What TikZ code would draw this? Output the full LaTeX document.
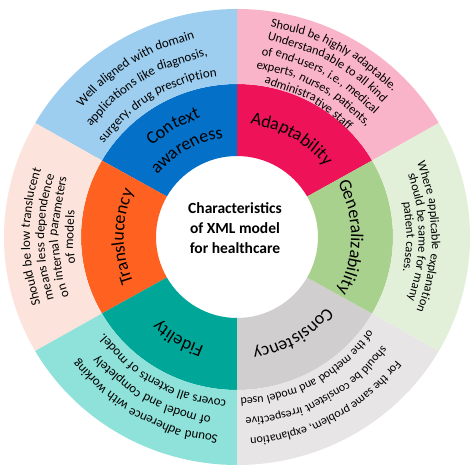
\documentclass[tikz,border=0pt]{standalone}
\usepackage{fontspec}
\setmainfont{Carlito}
\usetikzlibrary{decorations.text}
\definecolor{ctxO}{RGB}{157,206,240}
\definecolor{ctxM}{RGB}{4,112,200}
\definecolor{adaO}{RGB}{250,180,202}
\definecolor{adaM}{RGB}{238,18,88}
\definecolor{genO}{RGB}{226,240,217}
\definecolor{genM}{RGB}{169,209,142}
\definecolor{conO}{RGB}{231,229,230}
\definecolor{conM}{RGB}{208,206,206}
\definecolor{fidO}{RGB}{142,226,218}
\definecolor{fidM}{RGB}{0,166,152}
\definecolor{traO}{RGB}{252,228,220}
\definecolor{traM}{RGB}{255,97,32}
\newcommand{\lblf}{\fontsize{18}{22}\selectfont}
\newcommand{\dsca}{\fontsize{13}{15}\selectfont}
\newcommand{\dscb}{\fontsize{12.5}{14}\selectfont}
\newcommand{\dscc}{\fontsize{12}{14}\selectfont}
\newcommand{\ringsector}[7]{\fill[#7] (#1:#3pt and #4pt) arc[start angle=#1,end angle=#2,x radius=#3pt,y radius=#4pt] -- (#2:#5pt and #6pt) arc[start angle=#2,end angle=#1,x radius=#5pt,y radius=#6pt] -- cycle;}
\newcommand{\arctext}[4]{\path[decorate,decoration={text along path,text align=center,text={|#3|#4}}] ({#1+85}:#2pt) arc[start angle={#1+85},end angle={#1-85},radius=#2pt];}
\begin{document}
\begin{tikzpicture}[x=1pt,y=1pt]
\useasboundingbox (0,0) rectangle (474,476);
\fill[white] (0,0) rectangle (474,476);
\begin{scope}[shift={(237,239)}]
% middle ring
\ringsector{30}{90}{81}{81}{156}{153}{adaM}
\ringsector{90}{150}{81}{81}{156}{153}{ctxM}
\ringsector{150}{210}{81}{81}{156}{153}{traM}
\ringsector{210}{270}{81}{81}{156}{153}{fidM}
\ringsector{270}{330}{81}{81}{156}{153}{conM}
\ringsector{-30}{30}{81}{81}{156}{153}{genM}
% outer ring
\ringsector{30}{90}{156}{153}{233}{228}{adaO}
\ringsector{90}{150}{156}{153}{233}{228}{ctxO}
\ringsector{150}{210}{156}{153}{233}{228}{traO}
\ringsector{210}{270}{156}{153}{233}{228}{fidO}
\ringsector{270}{330}{156}{153}{233}{228}{conO}
\ringsector{-30}{30}{156}{153}{233}{228}{genO}
% middle labels
\arctext{120}{124}{\lblf}{{Con}{text}}
\arctext{120}{100}{\lblf}{{awa}{ren}{ess}}
\arctext{61}{113}{\lblf}{{Ada}{pta}{bil}{ity}}
\arctext{0}{114}{\lblf}{{Gen}{era}{liz}{abi}{lity}}
\arctext{300}{113}{\lblf}{{Con}{sis}{ten}{cy}}
\arctext{240}{114}{\lblf}{{Fid}{eli}{ty}}
\arctext{180}{113}{\lblf}{{Tra}{nsl}{uce}{ncy}}
% outer texts
\arctext{121}{202}{\dsca}{{Well} {aligned} {with} {domain}}
\arctext{121}{182}{\dsca}{{applica}{tions} {like} {diagnosis,}}
\arctext{121}{162}{\dsca}{{surgery,} {drug} {prescrip}{tion}}
\arctext{62}{212}{\dscb}{{Should} {be} {highly} {adaptable.}}
\arctext{62}{197.5}{\dscb}{{Understand}{able} {to} {all} {kind}}
\arctext{62}{183}{\dscb}{{of} {end-users,} {i.e.,} {medical}}
\arctext{62}{168.5}{\dscb}{{experts,} {nurses,} {patients,}}
\arctext{62}{154}{\dscb}{{administra}{tive} {staff}}
\arctext{0}{194}{\dscb}{{Where} {applicable} {explana}{tion}}
\arctext{0}{181.5}{\dscb}{{should} {be} {same} {for} {many}}
\arctext{0}{169}{\dscb}{{patient} {cases.}}
\arctext{298}{201}{\dscc}{{For} {the} {same} {problem,} {explana}{tion}}
\arctext{298}{181}{\dscc}{{should} {be} {consistent} {irrespec}{tive}}
\arctext{298}{161}{\dscc}{{of} {the} {method} {and} {model} {used}}
\arctext{241}{199}{\dsca}{{Sound} {adherence} {with} {working}}
\arctext{241}{181}{\dsca}{{of} {model} {and} {completely}}
\arctext{241}{163}{\dsca}{{covers} {all} {extents} {of} {model.}}
\arctext{180}{207}{\dsca}{{Should} {be} {low} {translu}{cent}}
\arctext{180}{192.5}{\dsca}{{means} {less} {depen}{dence}}
\arctext{180}{178}{\dsca}{{on} {internal} {parameters}}
\arctext{180}{163.5}{\dsca}{{of} {models}}
\end{scope}
\node[align=center,font=\bfseries\fontsize{15.5}{20}\selectfont] (title) at (235,248) {Characteristics\\of XML model\\for healthcare};
\end{tikzpicture}
\end{document}
